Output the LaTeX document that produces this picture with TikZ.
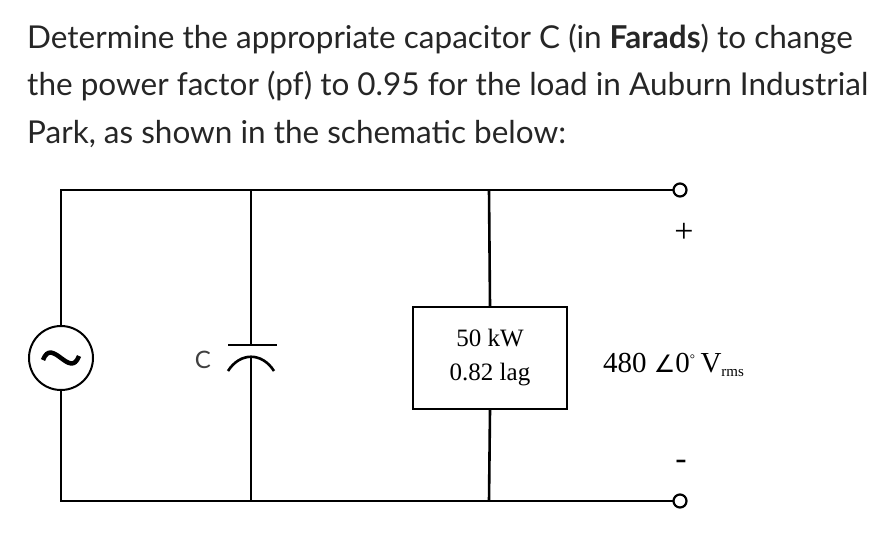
\documentclass[tikz,border=0pt]{standalone}
\usepackage{fontspec}
\setmainfont{Lato}
\newfontfamily\tnr{Liberation Serif}
\newfontfamily\djv{DejaVu Sans}
\begin{document}
\begin{tikzpicture}[x=1pt,y=-1pt,
  wire/.style={line width=2.6pt},
  term/.style={draw,circle,line width=2.2pt,minimum size=13pt,inner sep=0,fill=white},
  title/.style={anchor=base west,inner sep=0,font=\fontsize{31.5}{32}\selectfont,text=black!85}]
\useasboundingbox (0,0) rectangle (888,550);
\node[title] (t1) at (27,48) {Determine the appropriate capacitor C (in \textbf{Farads}) to change};
\node[title] (t2) at (27,95) {the power factor (pf) to 0.95 for the load in Auburn Industrial};
\node[title] (t3) at (27,143) {Park, as shown in the schematic below:};
\coordinate (tl) at (61,190); \coordinate (bl) at (61,501);
\coordinate (ct) at (251,190); \coordinate (cb) at (251,501);
\coordinate (lt) at (489,190); \coordinate (lb) at (489,501);
\node[draw,circle,line width=2pt,minimum size=64pt,inner sep=0] (src) at (61,358) {};
\draw[line width=4.5pt] (43,360) .. controls (52,336) and (70,380) .. (79,356);
\draw[wire] (src.north) -- (tl) -- (lt) -- (674,190);
\draw[wire] (src.south) -- (bl) -- (lb) -- (674,501);
\node[term] (tp) at (680,190) {};
\node[term] (tm) at (680,501) {};
\coordinate (cp1) at (251,345); \coordinate (cp2) at (251,357);
\draw[wire] (ct) -- (cp1);
\draw[wire] (228,345) -- (277,345);
\draw[wire] (228,371) .. controls (240,352) and (262,352) .. (274,371);
\draw[wire] (cp2) -- (cb);
\node[font=\fontsize{24}{24}\selectfont,text=black!75] (cl) at (203,360) {C};
\node[draw,line width=2.4pt,minimum width=154pt,minimum height=102pt,fill=white,align=center,font=\tnr\fontsize{25}{34}\selectfont] (load) at (490,358) {50 kW\\0.82 lag};
\draw[wire] (lt) -- (load.north); \draw[wire] (load.south) -- (lb);
\node[font=\tnr\fontsize{34}{34}\selectfont] (pl) at (684,233) {+};
\node[font=\tnr\fontsize{34}{34}\selectfont] (mi) at (681,465) {-};
\node[font=\tnr\fontsize{29}{29}\selectfont,anchor=west,inner sep=0] (v) at (603,365) {480 {\djv\fontsize{24}{24}\selectfont∠}0\textsuperscript{\fontsize{13}{13}\selectfont °}\,V\textsubscript{\fontsize{15}{15}\selectfont rms}};
\end{tikzpicture}
\end{document}
